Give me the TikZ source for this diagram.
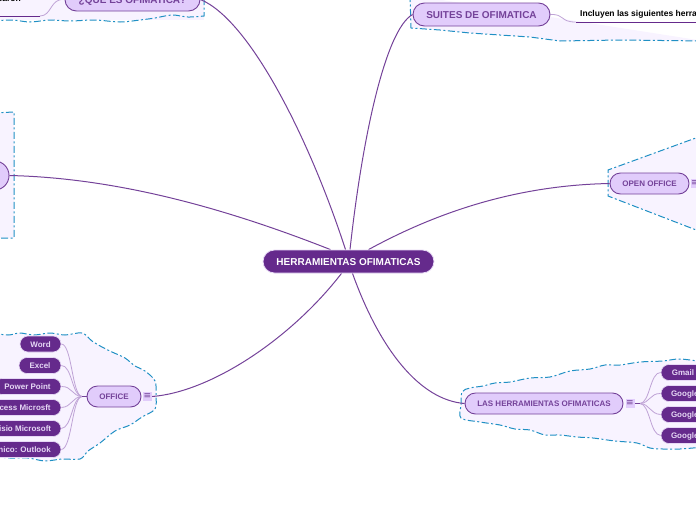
\documentclass[tikz,border=0pt]{standalone}
\usepackage{fontspec}
\setmainfont{Liberation Sans}
\newfontfamily\symfont{DejaVu Sans}
\usetikzlibrary{shapes.misc,backgrounds}
\definecolor{deep}{HTML}{652A8C}
\definecolor{mid}{HTML}{744299}
\definecolor{lilac}{HTML}{E1CCFB}
\definecolor{pale}{HTML}{F8F3FF}
\definecolor{thin}{HTML}{BFA3D6}
\definecolor{cloudline}{HTML}{2090C4}
\definecolor{edge}{HTML}{E6D8F5}
\tikzset{
  every node/.style={font=\bfseries},
  rootbox/.style={rounded rectangle,fill=deep,draw=edge,line width=.8pt,text=white,font=\fontsize{10}{12}\bfseries,minimum height=23pt,inner sep=0pt,text height=8.5pt,text depth=0pt},
  topicbox/.style={rounded rectangle,fill=lilac,draw=mid,line width=.9pt,text=mid,inner sep=0pt},
  bigtopic/.style={topicbox,minimum height=23pt,font=\fontsize{10}{12}\bfseries,text height=8.5pt,text depth=0pt},
  smalltopic/.style={topicbox,minimum height=21pt,font=\fontsize{8}{10}\bfseries},
  leafbox/.style={rounded rectangle,fill=deep,draw=edge,line width=.6pt,text=edge,font=\fontsize{8}{10}\bfseries,minimum height=16pt,inner sep=0pt,text height=6.2pt,text depth=0pt},
  cloud/.style={fill=pale,draw=cloudline,line width=1pt,dash pattern=on 7pt off 2.5pt on 2pt off 2.5pt},
  mainline/.style={draw=mid,line width=1pt},
  twig/.style={draw=thin,line width=.8pt},
  grip/.style={fill=lilac,minimum width=9pt,minimum height=9pt,inner sep=0pt,text=mid,font=\symfont\fontsize{9}{9}\selectfont}
}
\begin{document}
\begin{tikzpicture}[x=1pt,y=-1pt]
\useasboundingbox (0,0) rectangle (696,520);
% nodes
\node[rootbox,minimum width=171pt] (root) at (348.5,261.5) {HERRAMIENTAS OFIMATICAS};
\node[bigtopic,minimum width=137pt] (suites) at (481.5,14.5) {SUITES DE OFIMATICA};
\node[bigtopic,minimum width=135pt] (quees) at (132.5,-0.5) {¿QUÉ ES OFIMATICA?};
\node[topicbox,minimum width=120pt,minimum height=29pt] (leftpill) at (-51,175.5) {};
\node[smalltopic,minimum width=79pt] (open) at (649.5,183.5) {OPEN OFFICE};
\node[smalltopic,minimum width=158pt] (las) at (544,403.5) {LAS HERRAMIENTAS OFIMATICAS};
\node[smalltopic,minimum width=54pt] (office) at (114,396.5) {OFFICE};
% office leaves
\node[leafbox,minimum width=41pt] (word) at (40.5,344) {Word};
\node[leafbox,minimum width=42pt] (excel) at (40,365.5) {Excel};
\node[leafbox,minimum width=67pt] (power) at (27.5,386.5) {Power Point};
\node[leafbox,minimum width=82pt] (access) at (20,407.5) {Access Microsft};
\node[leafbox,minimum width=77pt] (visio) at (22.5,428.5) {Visio Microsoft};
\node[leafbox,minimum width=100pt] (outlook) at (11,449.5) {Electrónico: Outlook};
% right leaves
\node[leafbox,minimum width=44pt] (gmail) at (683,372.5) {Gmail};
\node[leafbox,minimum width=70pt,text width=50pt,align=left] (g1) at (696,393.5) {Google};
\node[leafbox,minimum width=70pt,text width=50pt,align=left] (g2) at (696,414.5) {Google};
\node[leafbox,minimum width=70pt,text width=50pt,align=left] (g3) at (696,435.5) {Google};
% labels
\node[inner sep=0pt,anchor=west,font=\fontsize{8.5}{10}\bfseries] (incl) at (580,14.3) {Incluyen las siguientes herramientas};
\coordinate (inclA) at (575.5,22);
\coordinate (inclB) at (700,22);
\node[inner sep=0pt,anchor=east,font=\fontsize{8.5}{10}\bfseries] (que) at (21,-2) {buscaron};
\coordinate (queA) at (0,16);
\coordinate (queB) at (40,16);
% grips
\node[grip] (gripO) at (147.5,396.5) {≡};
\node[grip] (gripL) at (630,403.5) {≡};
\node[grip] (gripP) at (695,183.5) {≡};
\coordinate (hubO) at (82,396.5);
\coordinate (hubL) at (640,403.5);
\begin{pgfonlayer}{background}
% clouds
\path[cloud] plot[smooth,tension=.55] coordinates {(-8,333)(8,335)(20,333)(34,335)(50,333)(65,335)(82,333)(92,341)(102,347)(112,352)(125,358)(135,366)(145,371)(155,381)(156,395)(155,409)(142,417)(130,425)(115,431)(100,443)(88,451)(80,459)(62,459)(45,461)(28,458)(10,458)(-8,456)};
\path[cloud] plot[smooth,tension=.55] coordinates {(704,362)(680,359)(663,361)(640,362)(620,365)(605,365)(590,369)(570,371)(550,377)(530,378)(510,382)(495,383)(483,386)(470,388)(462,392)(461,405)(461,418)(480,422)(500,425)(515,429)(530,430)(545,435)(560,435)(577,437)(593,438)(615,441)(637,443)(650,448)(663,449)(680,449)(704,447)};
\path[cloud] (410,-5) -- (411,28) -- (440,30) -- (470,33) -- (500,35) -- (530,37) -- (560,41) -- (620,40) -- (704,41);
\fill[pale] (-8,-5) rectangle (204,20);
\draw[cloud,fill=none] plot[smooth,tension=.55] coordinates {(-8,21)(12,20)(30,22)(50,20)(70,21)(95,20)(120,22)(140,20)(155,18)(172,15)(188,17)(204,16)} -- (204,-5);
\path[cloud] (-8,113) -- (14,112) -- (14,238) -- (-8,238);
\path[cloud] (704,135) -- (608,170) -- (608,196) -- (704,233);
% main connectors
\draw[mainline] ([xshift=-3pt]root.north) .. controls (310,140) and (250,20) .. (quees.east);
\draw[mainline] ([xshift=1.5pt]root.north) .. controls (362,140) and (385,30) .. (suites.west);
\draw[mainline] ([xshift=-18pt]root.north) .. controls (230,210) and (120,178) .. (leftpill.east);
\draw[mainline] ([xshift=20pt]root.north) .. controls (450,205) and (530,185) .. (open.west);
\draw[mainline] ([xshift=4pt]root.south) .. controls (380,350) and (420,400) .. (las.west);
\draw[mainline] ([xshift=-7pt]root.south) .. controls (290,340) and (210,392) .. (gripO.east);
% twigs
\draw[twig] (hubO) .. controls (72,396) and (72,344) .. (word.east);
\draw[twig] (hubO) .. controls (72,396) and (72,365) .. (excel.east);
\draw[twig] (hubO) .. controls (72,396) and (72,386) .. (power.east);
\draw[twig] (hubO) .. controls (72,397) and (72,407) .. (access.east);
\draw[twig] (hubO) .. controls (72,397) and (72,428) .. (visio.east);
\draw[twig] (hubO) .. controls (72,397) and (72,449) .. (outlook.east);
\draw[mid,line width=.9pt] (hubO) -- (office.west);
\draw[twig] (hubL) .. controls (650,403) and (650,372) .. (gmail.west);
\draw[twig] (hubL) .. controls (650,403) and (650,393) .. (g1.west);
\draw[twig] (hubL) .. controls (650,404) and (650,414) .. (g2.west);
\draw[twig] (hubL) .. controls (650,404) and (650,435) .. (g3.west);
\draw[mid,line width=.9pt] (gripL.east) -- (hubL);
\draw[twig] (suites.east) .. controls (565,14) and (560,22) .. (inclA);
\draw[twig] (quees.west) .. controls (50,-2) and (52,16) .. (queB);
\draw[deep,line width=1pt] (inclA) -- (inclB);
\draw[deep,line width=1pt] (queA) -- (queB);
\end{pgfonlayer}
\end{tikzpicture}
\end{document}
